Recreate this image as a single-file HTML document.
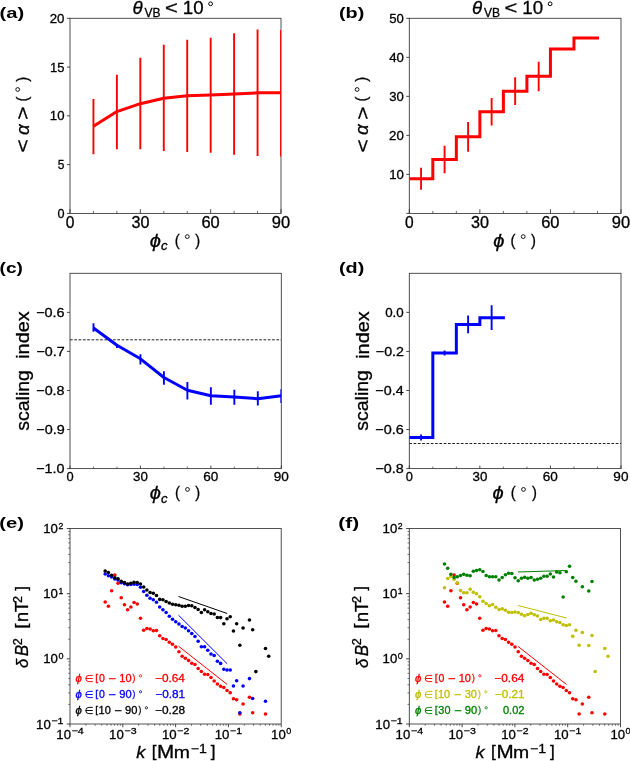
<!DOCTYPE html>
<html><head><meta charset="utf-8"><style>
html,body{margin:0;padding:0;background:#fff;overflow:hidden;}
svg{display:block;will-change:transform;font-family:"Liberation Sans", sans-serif;}
</style></head><body>
<svg width="630" height="761" viewBox="0 0 630 761">
<rect width="630" height="761" fill="#fff"/>
<rect x="70.00" y="18.30" width="211.00" height="195.10" fill="none" stroke="#333" stroke-width="0.85"/>
<line x1="67.00" y1="213.40" x2="70.00" y2="213.40" stroke="#333" stroke-width="0.9"/>
<text x="57.46" y="218.04" font-size="12.82" textLength="7.04" lengthAdjust="spacingAndGlyphs" stroke="#000" stroke-width="0.3">0</text>
<line x1="67.00" y1="164.62" x2="70.00" y2="164.62" stroke="#333" stroke-width="0.9"/>
<text x="57.86" y="169.27" font-size="12.78" textLength="6.64" lengthAdjust="spacingAndGlyphs" stroke="#000" stroke-width="0.3">5</text>
<line x1="67.00" y1="115.85" x2="70.00" y2="115.85" stroke="#333" stroke-width="0.9"/>
<text x="49.84" y="120.49" font-size="12.82" textLength="14.67" lengthAdjust="spacingAndGlyphs" stroke="#000" stroke-width="0.3">10</text>
<line x1="67.00" y1="67.08" x2="70.00" y2="67.08" stroke="#333" stroke-width="0.9"/>
<text x="50.11" y="71.72" font-size="12.78" textLength="14.44" lengthAdjust="spacingAndGlyphs" stroke="#000" stroke-width="0.3">15</text>
<line x1="67.00" y1="18.30" x2="70.00" y2="18.30" stroke="#333" stroke-width="0.9"/>
<text x="49.74" y="22.94" font-size="12.82" textLength="14.78" lengthAdjust="spacingAndGlyphs" stroke="#000" stroke-width="0.3">20</text>
<line x1="70.00" y1="213.40" x2="70.00" y2="209.20" stroke="#333" stroke-width="0.9"/>
<text x="65.66" y="227.66" font-size="15.81" textLength="8.68" lengthAdjust="spacingAndGlyphs" stroke="#000" stroke-width="0.3">0</text>
<line x1="140.33" y1="213.40" x2="140.33" y2="209.20" stroke="#333" stroke-width="0.9"/>
<text x="131.43" y="227.66" font-size="15.81" textLength="17.97" lengthAdjust="spacingAndGlyphs" stroke="#000" stroke-width="0.3">30</text>
<line x1="210.67" y1="213.40" x2="210.67" y2="209.20" stroke="#333" stroke-width="0.9"/>
<text x="201.45" y="227.66" font-size="15.81" textLength="18.29" lengthAdjust="spacingAndGlyphs" stroke="#000" stroke-width="0.3">60</text>
<line x1="281.00" y1="213.40" x2="281.00" y2="209.20" stroke="#333" stroke-width="0.9"/>
<text x="271.74" y="227.66" font-size="15.81" textLength="18.33" lengthAdjust="spacingAndGlyphs" stroke="#000" stroke-width="0.3">90</text>
<line x1="93.44" y1="213.40" x2="93.44" y2="210.90" stroke="#333" stroke-width="0.7"/>
<line x1="116.89" y1="213.40" x2="116.89" y2="210.90" stroke="#333" stroke-width="0.7"/>
<line x1="163.78" y1="213.40" x2="163.78" y2="210.90" stroke="#333" stroke-width="0.7"/>
<line x1="187.22" y1="213.40" x2="187.22" y2="210.90" stroke="#333" stroke-width="0.7"/>
<line x1="234.11" y1="213.40" x2="234.11" y2="210.90" stroke="#333" stroke-width="0.7"/>
<line x1="257.56" y1="213.40" x2="257.56" y2="210.90" stroke="#333" stroke-width="0.7"/>
<clipPath id="c1"><rect x="70.00" y="18.30" width="211.00" height="195.10"/></clipPath><g clip-path="url(#c1)">
<line x1="93.44" y1="99.10" x2="93.44" y2="154.20" stroke="#ff0000" stroke-width="1.9"/>
<line x1="116.89" y1="74.80" x2="116.89" y2="149.30" stroke="#ff0000" stroke-width="1.9"/>
<line x1="140.33" y1="57.70" x2="140.33" y2="149.30" stroke="#ff0000" stroke-width="1.9"/>
<line x1="163.78" y1="44.80" x2="163.78" y2="150.90" stroke="#ff0000" stroke-width="1.9"/>
<line x1="187.22" y1="39.70" x2="187.22" y2="152.10" stroke="#ff0000" stroke-width="1.9"/>
<line x1="210.67" y1="37.80" x2="210.67" y2="152.80" stroke="#ff0000" stroke-width="1.9"/>
<line x1="234.11" y1="33.20" x2="234.11" y2="154.70" stroke="#ff0000" stroke-width="1.9"/>
<line x1="257.56" y1="29.60" x2="257.56" y2="156.10" stroke="#ff0000" stroke-width="1.9"/>
<line x1="281.00" y1="30.10" x2="281.00" y2="156.50" stroke="#ff0000" stroke-width="1.9"/>
<polyline points="93.44,126.30 116.89,111.60 140.33,103.70 163.78,98.20 187.22,95.80 210.67,95.10 234.11,94.00 257.56,92.80 281.00,92.80" fill="none" stroke="#ff0000" stroke-width="3.0" stroke-linejoin="round"/>
</g>
<rect x="409.30" y="18.30" width="211.70" height="195.10" fill="none" stroke="#333" stroke-width="0.85"/>
<line x1="406.30" y1="213.40" x2="409.30" y2="213.40" stroke="#333" stroke-width="0.9"/>
<line x1="406.30" y1="174.38" x2="409.30" y2="174.38" stroke="#333" stroke-width="0.9"/>
<text x="389.24" y="179.02" font-size="12.82" textLength="14.67" lengthAdjust="spacingAndGlyphs" stroke="#000" stroke-width="0.3">10</text>
<line x1="406.30" y1="135.36" x2="409.30" y2="135.36" stroke="#333" stroke-width="0.9"/>
<text x="389.14" y="140.00" font-size="12.82" textLength="14.78" lengthAdjust="spacingAndGlyphs" stroke="#000" stroke-width="0.3">20</text>
<line x1="406.30" y1="96.34" x2="409.30" y2="96.34" stroke="#333" stroke-width="0.9"/>
<text x="389.34" y="100.98" font-size="12.82" textLength="14.57" lengthAdjust="spacingAndGlyphs" stroke="#000" stroke-width="0.3">30</text>
<line x1="406.30" y1="57.32" x2="409.30" y2="57.32" stroke="#333" stroke-width="0.9"/>
<text x="389.21" y="61.96" font-size="12.82" textLength="14.71" lengthAdjust="spacingAndGlyphs" stroke="#000" stroke-width="0.3">40</text>
<line x1="406.30" y1="18.30" x2="409.30" y2="18.30" stroke="#333" stroke-width="0.9"/>
<text x="389.33" y="22.94" font-size="12.82" textLength="14.58" lengthAdjust="spacingAndGlyphs" stroke="#000" stroke-width="0.3">50</text>
<line x1="409.30" y1="213.40" x2="409.30" y2="209.20" stroke="#333" stroke-width="0.9"/>
<text x="404.96" y="227.66" font-size="15.81" textLength="8.68" lengthAdjust="spacingAndGlyphs" stroke="#000" stroke-width="0.3">0</text>
<line x1="479.87" y1="213.40" x2="479.87" y2="209.20" stroke="#333" stroke-width="0.9"/>
<text x="470.96" y="227.66" font-size="15.81" textLength="17.97" lengthAdjust="spacingAndGlyphs" stroke="#000" stroke-width="0.3">30</text>
<line x1="550.43" y1="213.40" x2="550.43" y2="209.20" stroke="#333" stroke-width="0.9"/>
<text x="541.22" y="227.66" font-size="15.81" textLength="18.29" lengthAdjust="spacingAndGlyphs" stroke="#000" stroke-width="0.3">60</text>
<line x1="621.00" y1="213.40" x2="621.00" y2="209.20" stroke="#333" stroke-width="0.9"/>
<text x="611.74" y="227.66" font-size="15.81" textLength="18.33" lengthAdjust="spacingAndGlyphs" stroke="#000" stroke-width="0.3">90</text>
<line x1="432.82" y1="213.40" x2="432.82" y2="210.90" stroke="#333" stroke-width="0.7"/>
<line x1="456.34" y1="213.40" x2="456.34" y2="210.90" stroke="#333" stroke-width="0.7"/>
<line x1="503.39" y1="213.40" x2="503.39" y2="210.90" stroke="#333" stroke-width="0.7"/>
<line x1="526.91" y1="213.40" x2="526.91" y2="210.90" stroke="#333" stroke-width="0.7"/>
<line x1="573.96" y1="213.40" x2="573.96" y2="210.90" stroke="#333" stroke-width="0.7"/>
<line x1="597.48" y1="213.40" x2="597.48" y2="210.90" stroke="#333" stroke-width="0.7"/>
<clipPath id="c2"><rect x="409.30" y="18.30" width="211.70" height="195.10"/></clipPath><g clip-path="url(#c2)">
<polyline points="409.30,178.70 432.82,178.70 432.82,159.50 456.34,159.50 456.34,136.70 479.87,136.70 479.87,111.70 503.39,111.70 503.39,91.20 526.91,91.20 526.91,76.30 550.43,76.30 550.43,49.00 573.96,49.00 573.96,38.00 597.48,38.00" fill="none" stroke="#ff0000" stroke-width="3.0" stroke-linejoin="miter" stroke-linecap="square"/>
<line x1="421.06" y1="167.80" x2="421.06" y2="189.70" stroke="#ff0000" stroke-width="1.9"/>
<line x1="444.58" y1="145.80" x2="444.58" y2="173.30" stroke="#ff0000" stroke-width="1.9"/>
<line x1="468.11" y1="122.00" x2="468.11" y2="151.70" stroke="#ff0000" stroke-width="1.9"/>
<line x1="491.63" y1="98.00" x2="491.63" y2="125.50" stroke="#ff0000" stroke-width="1.9"/>
<line x1="515.15" y1="77.20" x2="515.15" y2="105.00" stroke="#ff0000" stroke-width="1.9"/>
<line x1="538.67" y1="61.70" x2="538.67" y2="91.20" stroke="#ff0000" stroke-width="1.9"/>
</g>
<rect x="70.00" y="273.30" width="211.30" height="195.30" fill="none" stroke="#333" stroke-width="0.85"/>
<line x1="67.00" y1="468.60" x2="70.00" y2="468.60" stroke="#333" stroke-width="0.9"/>
<text x="36.22" y="473.24" font-size="12.82" textLength="28.34" lengthAdjust="spacingAndGlyphs" stroke="#000" stroke-width="0.3">−1.0</text>
<line x1="67.00" y1="429.54" x2="70.00" y2="429.54" stroke="#333" stroke-width="0.9"/>
<text x="36.27" y="434.18" font-size="12.82" textLength="28.42" lengthAdjust="spacingAndGlyphs" stroke="#000" stroke-width="0.3">−0.9</text>
<line x1="67.00" y1="390.48" x2="70.00" y2="390.48" stroke="#333" stroke-width="0.9"/>
<text x="36.24" y="395.12" font-size="12.82" textLength="28.38" lengthAdjust="spacingAndGlyphs" stroke="#000" stroke-width="0.3">−0.8</text>
<line x1="67.00" y1="351.42" x2="70.00" y2="351.42" stroke="#333" stroke-width="0.9"/>
<text x="36.45" y="356.06" font-size="12.82" textLength="28.27" lengthAdjust="spacingAndGlyphs" stroke="#000" stroke-width="0.3">−0.7</text>
<line x1="67.00" y1="312.36" x2="70.00" y2="312.36" stroke="#333" stroke-width="0.9"/>
<text x="36.18" y="317.00" font-size="12.82" textLength="28.46" lengthAdjust="spacingAndGlyphs" stroke="#000" stroke-width="0.3">−0.6</text>
<line x1="70.00" y1="468.60" x2="70.00" y2="465.60" stroke="#333" stroke-width="0.9"/>
<text x="66.42" y="481.05" font-size="13.03" textLength="7.15" lengthAdjust="spacingAndGlyphs" stroke="#000" stroke-width="0.3">0</text>
<line x1="140.43" y1="468.60" x2="140.43" y2="465.60" stroke="#333" stroke-width="0.9"/>
<text x="133.09" y="481.05" font-size="13.03" textLength="14.81" lengthAdjust="spacingAndGlyphs" stroke="#000" stroke-width="0.3">30</text>
<line x1="210.87" y1="468.60" x2="210.87" y2="465.60" stroke="#333" stroke-width="0.9"/>
<text x="203.27" y="481.05" font-size="13.03" textLength="15.08" lengthAdjust="spacingAndGlyphs" stroke="#000" stroke-width="0.3">60</text>
<line x1="281.30" y1="468.60" x2="281.30" y2="465.60" stroke="#333" stroke-width="0.9"/>
<text x="273.67" y="481.05" font-size="13.03" textLength="15.11" lengthAdjust="spacingAndGlyphs" stroke="#000" stroke-width="0.3">90</text>
<line x1="93.48" y1="468.60" x2="93.48" y2="466.60" stroke="#333" stroke-width="0.7"/>
<line x1="116.96" y1="468.60" x2="116.96" y2="466.60" stroke="#333" stroke-width="0.7"/>
<line x1="163.91" y1="468.60" x2="163.91" y2="466.60" stroke="#333" stroke-width="0.7"/>
<line x1="187.39" y1="468.60" x2="187.39" y2="466.60" stroke="#333" stroke-width="0.7"/>
<line x1="234.34" y1="468.60" x2="234.34" y2="466.60" stroke="#333" stroke-width="0.7"/>
<line x1="257.82" y1="468.60" x2="257.82" y2="466.60" stroke="#333" stroke-width="0.7"/>
<clipPath id="c3"><rect x="70.00" y="273.30" width="211.30" height="195.30"/></clipPath><g clip-path="url(#c3)">
<line x1="70.00" y1="339.80" x2="281.30" y2="339.80" stroke="#222" stroke-width="1.0" stroke-dasharray="2.7,1.6"/>
<line x1="93.48" y1="323.30" x2="93.48" y2="331.70" stroke="#0000ff" stroke-width="1.9"/>
<line x1="116.96" y1="344.20" x2="116.96" y2="348.00" stroke="#0000ff" stroke-width="1.9"/>
<line x1="140.43" y1="354.20" x2="140.43" y2="364.50" stroke="#0000ff" stroke-width="1.9"/>
<line x1="163.91" y1="371.30" x2="163.91" y2="384.70" stroke="#0000ff" stroke-width="1.9"/>
<line x1="187.39" y1="382.00" x2="187.39" y2="399.50" stroke="#0000ff" stroke-width="1.9"/>
<line x1="210.87" y1="387.20" x2="210.87" y2="404.70" stroke="#0000ff" stroke-width="1.9"/>
<line x1="234.34" y1="389.70" x2="234.34" y2="404.70" stroke="#0000ff" stroke-width="1.9"/>
<line x1="257.82" y1="391.30" x2="257.82" y2="405.50" stroke="#0000ff" stroke-width="1.9"/>
<line x1="281.30" y1="389.20" x2="281.30" y2="403.00" stroke="#0000ff" stroke-width="1.9"/>
<polyline points="93.48,328.00 116.96,345.30 140.43,358.80 163.91,377.50 187.39,390.30 210.87,395.80 234.34,397.00 257.82,398.70 281.30,395.80" fill="none" stroke="#0000ff" stroke-width="3.0" stroke-linejoin="round"/>
</g>
<rect x="409.30" y="273.30" width="211.70" height="195.30" fill="none" stroke="#333" stroke-width="0.85"/>
<line x1="406.30" y1="468.60" x2="409.30" y2="468.60" stroke="#333" stroke-width="0.9"/>
<text x="375.44" y="473.24" font-size="12.82" textLength="28.38" lengthAdjust="spacingAndGlyphs" stroke="#000" stroke-width="0.3">−0.8</text>
<line x1="406.30" y1="429.54" x2="409.30" y2="429.54" stroke="#333" stroke-width="0.9"/>
<text x="375.38" y="434.18" font-size="12.82" textLength="28.46" lengthAdjust="spacingAndGlyphs" stroke="#000" stroke-width="0.3">−0.6</text>
<line x1="406.30" y1="390.48" x2="409.30" y2="390.48" stroke="#333" stroke-width="0.9"/>
<text x="375.30" y="395.12" font-size="12.82" textLength="28.32" lengthAdjust="spacingAndGlyphs" stroke="#000" stroke-width="0.3">−0.4</text>
<line x1="406.30" y1="351.42" x2="409.30" y2="351.42" stroke="#333" stroke-width="0.9"/>
<text x="375.83" y="356.06" font-size="12.82" textLength="28.08" lengthAdjust="spacingAndGlyphs" stroke="#000" stroke-width="0.3">−0.2</text>
<line x1="406.30" y1="312.36" x2="409.30" y2="312.36" stroke="#333" stroke-width="0.9"/>
<text x="385.18" y="317.00" font-size="12.82" textLength="18.54" lengthAdjust="spacingAndGlyphs" stroke="#000" stroke-width="0.3">0.0</text>
<line x1="409.30" y1="468.60" x2="409.30" y2="465.60" stroke="#333" stroke-width="0.9"/>
<text x="405.72" y="481.05" font-size="13.03" textLength="7.15" lengthAdjust="spacingAndGlyphs" stroke="#000" stroke-width="0.3">0</text>
<line x1="479.87" y1="468.60" x2="479.87" y2="465.60" stroke="#333" stroke-width="0.9"/>
<text x="472.53" y="481.05" font-size="13.03" textLength="14.81" lengthAdjust="spacingAndGlyphs" stroke="#000" stroke-width="0.3">30</text>
<line x1="550.43" y1="468.60" x2="550.43" y2="465.60" stroke="#333" stroke-width="0.9"/>
<text x="542.83" y="481.05" font-size="13.03" textLength="15.08" lengthAdjust="spacingAndGlyphs" stroke="#000" stroke-width="0.3">60</text>
<line x1="621.00" y1="468.60" x2="621.00" y2="465.60" stroke="#333" stroke-width="0.9"/>
<text x="613.37" y="481.05" font-size="13.03" textLength="15.11" lengthAdjust="spacingAndGlyphs" stroke="#000" stroke-width="0.3">90</text>
<line x1="432.82" y1="468.60" x2="432.82" y2="466.60" stroke="#333" stroke-width="0.7"/>
<line x1="456.34" y1="468.60" x2="456.34" y2="466.60" stroke="#333" stroke-width="0.7"/>
<line x1="503.39" y1="468.60" x2="503.39" y2="466.60" stroke="#333" stroke-width="0.7"/>
<line x1="526.91" y1="468.60" x2="526.91" y2="466.60" stroke="#333" stroke-width="0.7"/>
<line x1="573.96" y1="468.60" x2="573.96" y2="466.60" stroke="#333" stroke-width="0.7"/>
<line x1="597.48" y1="468.60" x2="597.48" y2="466.60" stroke="#333" stroke-width="0.7"/>
<clipPath id="c4"><rect x="409.30" y="273.30" width="211.70" height="195.30"/></clipPath><g clip-path="url(#c4)">
<line x1="409.30" y1="443.50" x2="621.00" y2="443.50" stroke="#222" stroke-width="1.0" stroke-dasharray="2.7,1.6"/>
<polyline points="409.30,437.40 432.82,437.40 432.82,353.00 456.34,353.00 456.34,324.40 479.87,324.40 479.87,317.70 503.39,317.70" fill="none" stroke="#0000ff" stroke-width="3.0" stroke-linecap="square"/>
<line x1="421.06" y1="434.50" x2="421.06" y2="440.50" stroke="#0000ff" stroke-width="1.9"/>
<line x1="444.58" y1="350.50" x2="444.58" y2="355.50" stroke="#0000ff" stroke-width="1.9"/>
<line x1="468.11" y1="315.40" x2="468.11" y2="333.20" stroke="#0000ff" stroke-width="1.9"/>
<line x1="491.63" y1="305.30" x2="491.63" y2="329.90" stroke="#0000ff" stroke-width="1.9"/>
</g>
<rect x="70.00" y="528.50" width="211.20" height="195.50" fill="none" stroke="#333" stroke-width="0.85"/>
<line x1="66.80" y1="724.00" x2="70.00" y2="724.00" stroke="#333" stroke-width="0.9"/>
<line x1="66.80" y1="658.83" x2="70.00" y2="658.83" stroke="#333" stroke-width="0.9"/>
<line x1="66.80" y1="593.67" x2="70.00" y2="593.67" stroke="#333" stroke-width="0.9"/>
<line x1="66.80" y1="528.50" x2="70.00" y2="528.50" stroke="#333" stroke-width="0.9"/>
<line x1="68.20" y1="704.38" x2="70.00" y2="704.38" stroke="#333" stroke-width="0.65"/>
<line x1="68.20" y1="692.91" x2="70.00" y2="692.91" stroke="#333" stroke-width="0.65"/>
<line x1="68.20" y1="684.77" x2="70.00" y2="684.77" stroke="#333" stroke-width="0.65"/>
<line x1="68.20" y1="678.45" x2="70.00" y2="678.45" stroke="#333" stroke-width="0.65"/>
<line x1="68.20" y1="673.29" x2="70.00" y2="673.29" stroke="#333" stroke-width="0.65"/>
<line x1="68.20" y1="668.93" x2="70.00" y2="668.93" stroke="#333" stroke-width="0.65"/>
<line x1="68.20" y1="665.15" x2="70.00" y2="665.15" stroke="#333" stroke-width="0.65"/>
<line x1="68.20" y1="661.82" x2="70.00" y2="661.82" stroke="#333" stroke-width="0.65"/>
<line x1="68.20" y1="639.22" x2="70.00" y2="639.22" stroke="#333" stroke-width="0.65"/>
<line x1="68.20" y1="627.74" x2="70.00" y2="627.74" stroke="#333" stroke-width="0.65"/>
<line x1="68.20" y1="619.60" x2="70.00" y2="619.60" stroke="#333" stroke-width="0.65"/>
<line x1="68.20" y1="613.28" x2="70.00" y2="613.28" stroke="#333" stroke-width="0.65"/>
<line x1="68.20" y1="608.12" x2="70.00" y2="608.12" stroke="#333" stroke-width="0.65"/>
<line x1="68.20" y1="603.76" x2="70.00" y2="603.76" stroke="#333" stroke-width="0.65"/>
<line x1="68.20" y1="599.98" x2="70.00" y2="599.98" stroke="#333" stroke-width="0.65"/>
<line x1="68.20" y1="596.65" x2="70.00" y2="596.65" stroke="#333" stroke-width="0.65"/>
<line x1="68.20" y1="574.05" x2="70.00" y2="574.05" stroke="#333" stroke-width="0.65"/>
<line x1="68.20" y1="562.57" x2="70.00" y2="562.57" stroke="#333" stroke-width="0.65"/>
<line x1="68.20" y1="554.43" x2="70.00" y2="554.43" stroke="#333" stroke-width="0.65"/>
<line x1="68.20" y1="548.12" x2="70.00" y2="548.12" stroke="#333" stroke-width="0.65"/>
<line x1="68.20" y1="542.96" x2="70.00" y2="542.96" stroke="#333" stroke-width="0.65"/>
<line x1="68.20" y1="538.59" x2="70.00" y2="538.59" stroke="#333" stroke-width="0.65"/>
<line x1="68.20" y1="534.82" x2="70.00" y2="534.82" stroke="#333" stroke-width="0.65"/>
<line x1="68.20" y1="531.48" x2="70.00" y2="531.48" stroke="#333" stroke-width="0.65"/>
<line x1="70.00" y1="724.00" x2="70.00" y2="727.20" stroke="#333" stroke-width="0.9"/>
<line x1="122.80" y1="724.00" x2="122.80" y2="727.20" stroke="#333" stroke-width="0.9"/>
<line x1="175.60" y1="724.00" x2="175.60" y2="727.20" stroke="#333" stroke-width="0.9"/>
<line x1="228.40" y1="724.00" x2="228.40" y2="727.20" stroke="#333" stroke-width="0.9"/>
<line x1="281.20" y1="724.00" x2="281.20" y2="727.20" stroke="#333" stroke-width="0.9"/>
<line x1="85.89" y1="724.00" x2="85.89" y2="725.80" stroke="#333" stroke-width="0.65"/>
<line x1="95.19" y1="724.00" x2="95.19" y2="725.80" stroke="#333" stroke-width="0.65"/>
<line x1="101.79" y1="724.00" x2="101.79" y2="725.80" stroke="#333" stroke-width="0.65"/>
<line x1="106.91" y1="724.00" x2="106.91" y2="725.80" stroke="#333" stroke-width="0.65"/>
<line x1="111.09" y1="724.00" x2="111.09" y2="725.80" stroke="#333" stroke-width="0.65"/>
<line x1="114.62" y1="724.00" x2="114.62" y2="725.80" stroke="#333" stroke-width="0.65"/>
<line x1="117.68" y1="724.00" x2="117.68" y2="725.80" stroke="#333" stroke-width="0.65"/>
<line x1="120.38" y1="724.00" x2="120.38" y2="725.80" stroke="#333" stroke-width="0.65"/>
<line x1="138.69" y1="724.00" x2="138.69" y2="725.80" stroke="#333" stroke-width="0.65"/>
<line x1="147.99" y1="724.00" x2="147.99" y2="725.80" stroke="#333" stroke-width="0.65"/>
<line x1="154.59" y1="724.00" x2="154.59" y2="725.80" stroke="#333" stroke-width="0.65"/>
<line x1="159.71" y1="724.00" x2="159.71" y2="725.80" stroke="#333" stroke-width="0.65"/>
<line x1="163.89" y1="724.00" x2="163.89" y2="725.80" stroke="#333" stroke-width="0.65"/>
<line x1="167.42" y1="724.00" x2="167.42" y2="725.80" stroke="#333" stroke-width="0.65"/>
<line x1="170.48" y1="724.00" x2="170.48" y2="725.80" stroke="#333" stroke-width="0.65"/>
<line x1="173.18" y1="724.00" x2="173.18" y2="725.80" stroke="#333" stroke-width="0.65"/>
<line x1="191.49" y1="724.00" x2="191.49" y2="725.80" stroke="#333" stroke-width="0.65"/>
<line x1="200.79" y1="724.00" x2="200.79" y2="725.80" stroke="#333" stroke-width="0.65"/>
<line x1="207.39" y1="724.00" x2="207.39" y2="725.80" stroke="#333" stroke-width="0.65"/>
<line x1="212.51" y1="724.00" x2="212.51" y2="725.80" stroke="#333" stroke-width="0.65"/>
<line x1="216.69" y1="724.00" x2="216.69" y2="725.80" stroke="#333" stroke-width="0.65"/>
<line x1="220.22" y1="724.00" x2="220.22" y2="725.80" stroke="#333" stroke-width="0.65"/>
<line x1="223.28" y1="724.00" x2="223.28" y2="725.80" stroke="#333" stroke-width="0.65"/>
<line x1="225.98" y1="724.00" x2="225.98" y2="725.80" stroke="#333" stroke-width="0.65"/>
<line x1="244.29" y1="724.00" x2="244.29" y2="725.80" stroke="#333" stroke-width="0.65"/>
<line x1="253.59" y1="724.00" x2="253.59" y2="725.80" stroke="#333" stroke-width="0.65"/>
<line x1="260.19" y1="724.00" x2="260.19" y2="725.80" stroke="#333" stroke-width="0.65"/>
<line x1="265.31" y1="724.00" x2="265.31" y2="725.80" stroke="#333" stroke-width="0.65"/>
<line x1="269.49" y1="724.00" x2="269.49" y2="725.80" stroke="#333" stroke-width="0.65"/>
<line x1="273.02" y1="724.00" x2="273.02" y2="725.80" stroke="#333" stroke-width="0.65"/>
<line x1="276.08" y1="724.00" x2="276.08" y2="725.80" stroke="#333" stroke-width="0.65"/>
<line x1="278.78" y1="724.00" x2="278.78" y2="725.80" stroke="#333" stroke-width="0.65"/>
<text x="36.07" y="728.54" font-size="12.82" textLength="14.67" lengthAdjust="spacingAndGlyphs" stroke="#000" stroke-width="0.3">10</text>
<text x="51.41" y="724.30" font-size="9.11" textLength="12.01" lengthAdjust="spacingAndGlyphs" stroke="#000" stroke-width="0.3">−1</text>
<text x="43.27" y="663.38" font-size="12.82" textLength="14.67" lengthAdjust="spacingAndGlyphs" stroke="#000" stroke-width="0.3">10</text>
<text x="58.44" y="659.17" font-size="9.19" textLength="5.04" lengthAdjust="spacingAndGlyphs" stroke="#000" stroke-width="0.3">0</text>
<text x="43.27" y="598.21" font-size="12.82" textLength="14.67" lengthAdjust="spacingAndGlyphs" stroke="#000" stroke-width="0.3">10</text>
<text x="58.51" y="593.97" font-size="9.11" textLength="4.82" lengthAdjust="spacingAndGlyphs" stroke="#000" stroke-width="0.3">1</text>
<text x="43.27" y="533.04" font-size="12.82" textLength="14.67" lengthAdjust="spacingAndGlyphs" stroke="#000" stroke-width="0.3">10</text>
<text x="58.42" y="528.80" font-size="9.14" textLength="4.86" lengthAdjust="spacingAndGlyphs" stroke="#000" stroke-width="0.3">2</text>
<text x="56.34" y="739.04" font-size="12.82" textLength="14.67" lengthAdjust="spacingAndGlyphs" stroke="#000" stroke-width="0.3">10</text>
<text x="71.68" y="734.00" font-size="9.11" textLength="12.12" lengthAdjust="spacingAndGlyphs" stroke="#000" stroke-width="0.3">−4</text>
<text x="109.14" y="739.04" font-size="12.82" textLength="14.67" lengthAdjust="spacingAndGlyphs" stroke="#000" stroke-width="0.3">10</text>
<text x="124.49" y="734.03" font-size="9.19" textLength="12.06" lengthAdjust="spacingAndGlyphs" stroke="#000" stroke-width="0.3">−3</text>
<text x="161.94" y="739.04" font-size="12.82" textLength="14.67" lengthAdjust="spacingAndGlyphs" stroke="#000" stroke-width="0.3">10</text>
<text x="177.29" y="734.00" font-size="9.14" textLength="11.95" lengthAdjust="spacingAndGlyphs" stroke="#000" stroke-width="0.3">−2</text>
<text x="214.74" y="739.04" font-size="12.82" textLength="14.67" lengthAdjust="spacingAndGlyphs" stroke="#000" stroke-width="0.3">10</text>
<text x="230.09" y="734.00" font-size="9.11" textLength="12.01" lengthAdjust="spacingAndGlyphs" stroke="#000" stroke-width="0.3">−1</text>
<text x="271.14" y="739.04" font-size="12.82" textLength="14.67" lengthAdjust="spacingAndGlyphs" stroke="#000" stroke-width="0.3">10</text>
<text x="286.31" y="734.03" font-size="9.19" textLength="5.04" lengthAdjust="spacingAndGlyphs" stroke="#000" stroke-width="0.3">0</text>
<rect x="409.30" y="528.50" width="211.20" height="195.50" fill="none" stroke="#333" stroke-width="0.85"/>
<line x1="406.10" y1="724.00" x2="409.30" y2="724.00" stroke="#333" stroke-width="0.9"/>
<line x1="406.10" y1="658.83" x2="409.30" y2="658.83" stroke="#333" stroke-width="0.9"/>
<line x1="406.10" y1="593.67" x2="409.30" y2="593.67" stroke="#333" stroke-width="0.9"/>
<line x1="406.10" y1="528.50" x2="409.30" y2="528.50" stroke="#333" stroke-width="0.9"/>
<line x1="407.50" y1="704.38" x2="409.30" y2="704.38" stroke="#333" stroke-width="0.65"/>
<line x1="407.50" y1="692.91" x2="409.30" y2="692.91" stroke="#333" stroke-width="0.65"/>
<line x1="407.50" y1="684.77" x2="409.30" y2="684.77" stroke="#333" stroke-width="0.65"/>
<line x1="407.50" y1="678.45" x2="409.30" y2="678.45" stroke="#333" stroke-width="0.65"/>
<line x1="407.50" y1="673.29" x2="409.30" y2="673.29" stroke="#333" stroke-width="0.65"/>
<line x1="407.50" y1="668.93" x2="409.30" y2="668.93" stroke="#333" stroke-width="0.65"/>
<line x1="407.50" y1="665.15" x2="409.30" y2="665.15" stroke="#333" stroke-width="0.65"/>
<line x1="407.50" y1="661.82" x2="409.30" y2="661.82" stroke="#333" stroke-width="0.65"/>
<line x1="407.50" y1="639.22" x2="409.30" y2="639.22" stroke="#333" stroke-width="0.65"/>
<line x1="407.50" y1="627.74" x2="409.30" y2="627.74" stroke="#333" stroke-width="0.65"/>
<line x1="407.50" y1="619.60" x2="409.30" y2="619.60" stroke="#333" stroke-width="0.65"/>
<line x1="407.50" y1="613.28" x2="409.30" y2="613.28" stroke="#333" stroke-width="0.65"/>
<line x1="407.50" y1="608.12" x2="409.30" y2="608.12" stroke="#333" stroke-width="0.65"/>
<line x1="407.50" y1="603.76" x2="409.30" y2="603.76" stroke="#333" stroke-width="0.65"/>
<line x1="407.50" y1="599.98" x2="409.30" y2="599.98" stroke="#333" stroke-width="0.65"/>
<line x1="407.50" y1="596.65" x2="409.30" y2="596.65" stroke="#333" stroke-width="0.65"/>
<line x1="407.50" y1="574.05" x2="409.30" y2="574.05" stroke="#333" stroke-width="0.65"/>
<line x1="407.50" y1="562.57" x2="409.30" y2="562.57" stroke="#333" stroke-width="0.65"/>
<line x1="407.50" y1="554.43" x2="409.30" y2="554.43" stroke="#333" stroke-width="0.65"/>
<line x1="407.50" y1="548.12" x2="409.30" y2="548.12" stroke="#333" stroke-width="0.65"/>
<line x1="407.50" y1="542.96" x2="409.30" y2="542.96" stroke="#333" stroke-width="0.65"/>
<line x1="407.50" y1="538.59" x2="409.30" y2="538.59" stroke="#333" stroke-width="0.65"/>
<line x1="407.50" y1="534.82" x2="409.30" y2="534.82" stroke="#333" stroke-width="0.65"/>
<line x1="407.50" y1="531.48" x2="409.30" y2="531.48" stroke="#333" stroke-width="0.65"/>
<line x1="409.30" y1="724.00" x2="409.30" y2="727.20" stroke="#333" stroke-width="0.9"/>
<line x1="462.10" y1="724.00" x2="462.10" y2="727.20" stroke="#333" stroke-width="0.9"/>
<line x1="514.90" y1="724.00" x2="514.90" y2="727.20" stroke="#333" stroke-width="0.9"/>
<line x1="567.70" y1="724.00" x2="567.70" y2="727.20" stroke="#333" stroke-width="0.9"/>
<line x1="620.50" y1="724.00" x2="620.50" y2="727.20" stroke="#333" stroke-width="0.9"/>
<line x1="425.19" y1="724.00" x2="425.19" y2="725.80" stroke="#333" stroke-width="0.65"/>
<line x1="434.49" y1="724.00" x2="434.49" y2="725.80" stroke="#333" stroke-width="0.65"/>
<line x1="441.09" y1="724.00" x2="441.09" y2="725.80" stroke="#333" stroke-width="0.65"/>
<line x1="446.21" y1="724.00" x2="446.21" y2="725.80" stroke="#333" stroke-width="0.65"/>
<line x1="450.39" y1="724.00" x2="450.39" y2="725.80" stroke="#333" stroke-width="0.65"/>
<line x1="453.92" y1="724.00" x2="453.92" y2="725.80" stroke="#333" stroke-width="0.65"/>
<line x1="456.98" y1="724.00" x2="456.98" y2="725.80" stroke="#333" stroke-width="0.65"/>
<line x1="459.68" y1="724.00" x2="459.68" y2="725.80" stroke="#333" stroke-width="0.65"/>
<line x1="477.99" y1="724.00" x2="477.99" y2="725.80" stroke="#333" stroke-width="0.65"/>
<line x1="487.29" y1="724.00" x2="487.29" y2="725.80" stroke="#333" stroke-width="0.65"/>
<line x1="493.89" y1="724.00" x2="493.89" y2="725.80" stroke="#333" stroke-width="0.65"/>
<line x1="499.01" y1="724.00" x2="499.01" y2="725.80" stroke="#333" stroke-width="0.65"/>
<line x1="503.19" y1="724.00" x2="503.19" y2="725.80" stroke="#333" stroke-width="0.65"/>
<line x1="506.72" y1="724.00" x2="506.72" y2="725.80" stroke="#333" stroke-width="0.65"/>
<line x1="509.78" y1="724.00" x2="509.78" y2="725.80" stroke="#333" stroke-width="0.65"/>
<line x1="512.48" y1="724.00" x2="512.48" y2="725.80" stroke="#333" stroke-width="0.65"/>
<line x1="530.79" y1="724.00" x2="530.79" y2="725.80" stroke="#333" stroke-width="0.65"/>
<line x1="540.09" y1="724.00" x2="540.09" y2="725.80" stroke="#333" stroke-width="0.65"/>
<line x1="546.69" y1="724.00" x2="546.69" y2="725.80" stroke="#333" stroke-width="0.65"/>
<line x1="551.81" y1="724.00" x2="551.81" y2="725.80" stroke="#333" stroke-width="0.65"/>
<line x1="555.99" y1="724.00" x2="555.99" y2="725.80" stroke="#333" stroke-width="0.65"/>
<line x1="559.52" y1="724.00" x2="559.52" y2="725.80" stroke="#333" stroke-width="0.65"/>
<line x1="562.58" y1="724.00" x2="562.58" y2="725.80" stroke="#333" stroke-width="0.65"/>
<line x1="565.28" y1="724.00" x2="565.28" y2="725.80" stroke="#333" stroke-width="0.65"/>
<line x1="583.59" y1="724.00" x2="583.59" y2="725.80" stroke="#333" stroke-width="0.65"/>
<line x1="592.89" y1="724.00" x2="592.89" y2="725.80" stroke="#333" stroke-width="0.65"/>
<line x1="599.49" y1="724.00" x2="599.49" y2="725.80" stroke="#333" stroke-width="0.65"/>
<line x1="604.61" y1="724.00" x2="604.61" y2="725.80" stroke="#333" stroke-width="0.65"/>
<line x1="608.79" y1="724.00" x2="608.79" y2="725.80" stroke="#333" stroke-width="0.65"/>
<line x1="612.32" y1="724.00" x2="612.32" y2="725.80" stroke="#333" stroke-width="0.65"/>
<line x1="615.38" y1="724.00" x2="615.38" y2="725.80" stroke="#333" stroke-width="0.65"/>
<line x1="618.08" y1="724.00" x2="618.08" y2="725.80" stroke="#333" stroke-width="0.65"/>
<text x="375.37" y="728.54" font-size="12.82" textLength="14.67" lengthAdjust="spacingAndGlyphs" stroke="#000" stroke-width="0.3">10</text>
<text x="390.71" y="724.30" font-size="9.11" textLength="12.01" lengthAdjust="spacingAndGlyphs" stroke="#000" stroke-width="0.3">−1</text>
<text x="382.57" y="663.38" font-size="12.82" textLength="14.67" lengthAdjust="spacingAndGlyphs" stroke="#000" stroke-width="0.3">10</text>
<text x="397.74" y="659.17" font-size="9.19" textLength="5.04" lengthAdjust="spacingAndGlyphs" stroke="#000" stroke-width="0.3">0</text>
<text x="382.57" y="598.21" font-size="12.82" textLength="14.67" lengthAdjust="spacingAndGlyphs" stroke="#000" stroke-width="0.3">10</text>
<text x="397.81" y="593.97" font-size="9.11" textLength="4.82" lengthAdjust="spacingAndGlyphs" stroke="#000" stroke-width="0.3">1</text>
<text x="382.57" y="533.04" font-size="12.82" textLength="14.67" lengthAdjust="spacingAndGlyphs" stroke="#000" stroke-width="0.3">10</text>
<text x="397.72" y="528.80" font-size="9.14" textLength="4.86" lengthAdjust="spacingAndGlyphs" stroke="#000" stroke-width="0.3">2</text>
<text x="395.64" y="739.04" font-size="12.82" textLength="14.67" lengthAdjust="spacingAndGlyphs" stroke="#000" stroke-width="0.3">10</text>
<text x="410.98" y="734.00" font-size="9.11" textLength="12.12" lengthAdjust="spacingAndGlyphs" stroke="#000" stroke-width="0.3">−4</text>
<text x="448.44" y="739.04" font-size="12.82" textLength="14.67" lengthAdjust="spacingAndGlyphs" stroke="#000" stroke-width="0.3">10</text>
<text x="463.79" y="734.03" font-size="9.19" textLength="12.06" lengthAdjust="spacingAndGlyphs" stroke="#000" stroke-width="0.3">−3</text>
<text x="501.24" y="739.04" font-size="12.82" textLength="14.67" lengthAdjust="spacingAndGlyphs" stroke="#000" stroke-width="0.3">10</text>
<text x="516.59" y="734.00" font-size="9.14" textLength="11.95" lengthAdjust="spacingAndGlyphs" stroke="#000" stroke-width="0.3">−2</text>
<text x="554.04" y="739.04" font-size="12.82" textLength="14.67" lengthAdjust="spacingAndGlyphs" stroke="#000" stroke-width="0.3">10</text>
<text x="569.39" y="734.00" font-size="9.11" textLength="12.01" lengthAdjust="spacingAndGlyphs" stroke="#000" stroke-width="0.3">−1</text>
<text x="610.44" y="739.04" font-size="12.82" textLength="14.67" lengthAdjust="spacingAndGlyphs" stroke="#000" stroke-width="0.3">10</text>
<text x="625.61" y="734.03" font-size="9.19" textLength="5.04" lengthAdjust="spacingAndGlyphs" stroke="#000" stroke-width="0.3">0</text>
<g fill="#ff0000"><circle cx="105.20" cy="602.00" r="1.8"/><circle cx="108.41" cy="606.30" r="1.8"/><circle cx="111.61" cy="590.80" r="1.8"/><circle cx="114.82" cy="575.00" r="1.8"/><circle cx="118.02" cy="583.20" r="1.8"/><circle cx="121.23" cy="597.80" r="1.8"/><circle cx="124.44" cy="604.80" r="1.8"/><circle cx="127.64" cy="609.80" r="1.8"/><circle cx="130.85" cy="607.00" r="1.8"/><circle cx="134.05" cy="602.50" r="1.8"/><circle cx="137.26" cy="604.00" r="1.8"/><circle cx="140.47" cy="618.30" r="1.8"/><circle cx="143.67" cy="630.20" r="1.8"/><circle cx="146.88" cy="628.50" r="1.8"/><circle cx="150.08" cy="629.00" r="1.8"/><circle cx="153.29" cy="630.70" r="1.8"/><circle cx="156.50" cy="630.50" r="1.8"/><circle cx="159.70" cy="635.80" r="1.8"/><circle cx="162.91" cy="638.50" r="1.8"/><circle cx="166.11" cy="639.50" r="1.8"/><circle cx="169.32" cy="642.20" r="1.8"/><circle cx="172.53" cy="644.30" r="1.8"/><circle cx="175.73" cy="647.00" r="1.8"/><circle cx="178.94" cy="651.80" r="1.8"/><circle cx="182.14" cy="656.20" r="1.8"/><circle cx="185.35" cy="658.20" r="1.8"/><circle cx="188.56" cy="660.50" r="1.8"/><circle cx="191.76" cy="663.20" r="1.8"/><circle cx="194.97" cy="664.50" r="1.8"/><circle cx="198.17" cy="668.50" r="1.8"/><circle cx="201.38" cy="671.50" r="1.8"/><circle cx="204.59" cy="674.30" r="1.8"/><circle cx="207.79" cy="674.50" r="1.8"/><circle cx="211.00" cy="677.50" r="1.8"/><circle cx="214.20" cy="681.00" r="1.8"/><circle cx="217.41" cy="684.00" r="1.8"/><circle cx="220.62" cy="686.20" r="1.8"/><circle cx="223.82" cy="687.50" r="1.8"/><circle cx="227.03" cy="690.50" r="1.8"/><circle cx="230.23" cy="692.70" r="1.8"/><circle cx="233.44" cy="698.70" r="1.8"/><circle cx="236.65" cy="699.80" r="1.8"/><circle cx="239.85" cy="714.00" r="1.8"/><circle cx="243.06" cy="704.00" r="1.8"/><circle cx="249.47" cy="697.30" r="1.8"/><circle cx="252.68" cy="712.80" r="1.8"/><circle cx="265.50" cy="714.00" r="1.8"/></g>
<g fill="#0000ff"><circle cx="105.20" cy="574.00" r="1.8"/><circle cx="108.41" cy="575.70" r="1.8"/><circle cx="111.61" cy="577.00" r="1.8"/><circle cx="114.82" cy="579.00" r="1.8"/><circle cx="118.02" cy="580.00" r="1.8"/><circle cx="121.23" cy="582.80" r="1.8"/><circle cx="124.44" cy="583.80" r="1.8"/><circle cx="127.64" cy="584.80" r="1.8"/><circle cx="130.85" cy="584.50" r="1.8"/><circle cx="134.05" cy="584.30" r="1.8"/><circle cx="137.26" cy="584.50" r="1.8"/><circle cx="140.47" cy="587.20" r="1.8"/><circle cx="143.67" cy="591.50" r="1.8"/><circle cx="146.88" cy="595.30" r="1.8"/><circle cx="150.08" cy="598.30" r="1.8"/><circle cx="153.29" cy="599.80" r="1.8"/><circle cx="156.50" cy="602.30" r="1.8"/><circle cx="159.70" cy="607.00" r="1.8"/><circle cx="162.91" cy="609.80" r="1.8"/><circle cx="166.11" cy="612.50" r="1.8"/><circle cx="169.32" cy="616.20" r="1.8"/><circle cx="172.53" cy="619.20" r="1.8"/><circle cx="175.73" cy="621.80" r="1.8"/><circle cx="178.94" cy="624.00" r="1.8"/><circle cx="182.14" cy="626.50" r="1.8"/><circle cx="185.35" cy="628.00" r="1.8"/><circle cx="188.56" cy="630.80" r="1.8"/><circle cx="191.76" cy="633.50" r="1.8"/><circle cx="194.97" cy="636.50" r="1.8"/><circle cx="198.17" cy="641.30" r="1.8"/><circle cx="201.38" cy="646.80" r="1.8"/><circle cx="204.59" cy="646.80" r="1.8"/><circle cx="207.79" cy="650.20" r="1.8"/><circle cx="211.00" cy="654.00" r="1.8"/><circle cx="214.20" cy="655.50" r="1.8"/><circle cx="217.41" cy="661.30" r="1.8"/><circle cx="220.62" cy="663.40" r="1.8"/><circle cx="223.82" cy="669.20" r="1.8"/><circle cx="227.03" cy="670.00" r="1.8"/><circle cx="230.23" cy="670.00" r="1.8"/><circle cx="233.44" cy="686.00" r="1.8"/><circle cx="236.65" cy="680.80" r="1.8"/><circle cx="239.85" cy="712.70" r="1.8"/><circle cx="243.06" cy="686.00" r="1.8"/><circle cx="249.47" cy="678.60" r="1.8"/><circle cx="252.68" cy="698.50" r="1.8"/><circle cx="265.50" cy="701.20" r="1.8"/></g>
<g fill="#000000"><circle cx="105.20" cy="571.00" r="1.8"/><circle cx="108.41" cy="572.50" r="1.8"/><circle cx="111.61" cy="575.20" r="1.8"/><circle cx="114.82" cy="577.80" r="1.8"/><circle cx="118.02" cy="578.80" r="1.8"/><circle cx="121.23" cy="581.30" r="1.8"/><circle cx="124.44" cy="582.50" r="1.8"/><circle cx="127.64" cy="584.00" r="1.8"/><circle cx="130.85" cy="583.20" r="1.8"/><circle cx="134.05" cy="582.20" r="1.8"/><circle cx="137.26" cy="582.50" r="1.8"/><circle cx="140.47" cy="584.00" r="1.8"/><circle cx="143.67" cy="587.00" r="1.8"/><circle cx="146.88" cy="590.00" r="1.8"/><circle cx="150.08" cy="592.50" r="1.8"/><circle cx="153.29" cy="593.30" r="1.8"/><circle cx="156.50" cy="595.50" r="1.8"/><circle cx="159.70" cy="599.40" r="1.8"/><circle cx="162.91" cy="599.80" r="1.8"/><circle cx="166.11" cy="601.50" r="1.8"/><circle cx="169.32" cy="603.00" r="1.8"/><circle cx="172.53" cy="604.20" r="1.8"/><circle cx="175.73" cy="604.70" r="1.8"/><circle cx="178.94" cy="605.20" r="1.8"/><circle cx="182.14" cy="606.30" r="1.8"/><circle cx="185.35" cy="606.20" r="1.8"/><circle cx="188.56" cy="605.50" r="1.8"/><circle cx="191.76" cy="605.80" r="1.8"/><circle cx="194.97" cy="607.50" r="1.8"/><circle cx="198.17" cy="609.50" r="1.8"/><circle cx="201.38" cy="612.50" r="1.8"/><circle cx="204.59" cy="609.70" r="1.8"/><circle cx="207.79" cy="611.80" r="1.8"/><circle cx="211.00" cy="613.50" r="1.8"/><circle cx="214.20" cy="614.00" r="1.8"/><circle cx="217.41" cy="617.50" r="1.8"/><circle cx="220.62" cy="617.60" r="1.8"/><circle cx="223.82" cy="623.80" r="1.8"/><circle cx="227.03" cy="618.80" r="1.8"/><circle cx="230.23" cy="616.80" r="1.8"/><circle cx="233.44" cy="631.00" r="1.8"/><circle cx="236.65" cy="623.80" r="1.8"/><circle cx="239.85" cy="645.20" r="1.8"/><circle cx="243.06" cy="628.00" r="1.8"/><circle cx="249.47" cy="620.00" r="1.8"/><circle cx="252.68" cy="629.80" r="1.8"/><circle cx="255.88" cy="671.60" r="1.8"/><circle cx="265.50" cy="648.50" r="1.8"/><circle cx="268.71" cy="656.20" r="1.8"/></g>
<line x1="178.50" y1="646.20" x2="227.20" y2="684.50" stroke="#ff0000" stroke-width="1.0"/>
<line x1="178.50" y1="615.20" x2="227.20" y2="663.80" stroke="#0000ff" stroke-width="1.0"/>
<line x1="178.50" y1="596.50" x2="227.20" y2="613.50" stroke="#000000" stroke-width="1.0"/>
<g fill="#ff0000"><circle cx="444.50" cy="602.00" r="1.8"/><circle cx="447.71" cy="606.30" r="1.8"/><circle cx="450.91" cy="590.80" r="1.8"/><circle cx="454.12" cy="575.00" r="1.8"/><circle cx="457.32" cy="583.20" r="1.8"/><circle cx="460.53" cy="597.80" r="1.8"/><circle cx="463.74" cy="604.80" r="1.8"/><circle cx="466.94" cy="609.80" r="1.8"/><circle cx="470.15" cy="607.00" r="1.8"/><circle cx="473.35" cy="602.50" r="1.8"/><circle cx="476.56" cy="604.00" r="1.8"/><circle cx="479.77" cy="618.30" r="1.8"/><circle cx="482.97" cy="630.20" r="1.8"/><circle cx="486.18" cy="628.50" r="1.8"/><circle cx="489.38" cy="629.00" r="1.8"/><circle cx="492.59" cy="630.70" r="1.8"/><circle cx="495.80" cy="630.50" r="1.8"/><circle cx="499.00" cy="635.80" r="1.8"/><circle cx="502.21" cy="638.50" r="1.8"/><circle cx="505.41" cy="639.50" r="1.8"/><circle cx="508.62" cy="642.20" r="1.8"/><circle cx="511.83" cy="644.30" r="1.8"/><circle cx="515.03" cy="647.00" r="1.8"/><circle cx="518.24" cy="651.80" r="1.8"/><circle cx="521.44" cy="656.20" r="1.8"/><circle cx="524.65" cy="658.20" r="1.8"/><circle cx="527.86" cy="660.50" r="1.8"/><circle cx="531.06" cy="663.20" r="1.8"/><circle cx="534.27" cy="664.50" r="1.8"/><circle cx="537.47" cy="668.50" r="1.8"/><circle cx="540.68" cy="671.50" r="1.8"/><circle cx="543.89" cy="674.30" r="1.8"/><circle cx="547.09" cy="674.50" r="1.8"/><circle cx="550.30" cy="677.50" r="1.8"/><circle cx="553.50" cy="681.00" r="1.8"/><circle cx="556.71" cy="684.00" r="1.8"/><circle cx="559.92" cy="686.20" r="1.8"/><circle cx="563.12" cy="687.50" r="1.8"/><circle cx="566.33" cy="690.50" r="1.8"/><circle cx="569.53" cy="692.70" r="1.8"/><circle cx="572.74" cy="698.70" r="1.8"/><circle cx="575.95" cy="699.80" r="1.8"/><circle cx="579.15" cy="714.00" r="1.8"/><circle cx="582.36" cy="704.00" r="1.8"/><circle cx="588.77" cy="697.30" r="1.8"/><circle cx="591.98" cy="712.80" r="1.8"/><circle cx="604.80" cy="714.00" r="1.8"/></g>
<g fill="#bfbf00"><circle cx="444.50" cy="587.70" r="1.8"/><circle cx="447.71" cy="578.50" r="1.8"/><circle cx="450.91" cy="576.50" r="1.8"/><circle cx="454.12" cy="579.20" r="1.8"/><circle cx="457.32" cy="583.00" r="1.8"/><circle cx="460.53" cy="590.50" r="1.8"/><circle cx="463.74" cy="592.80" r="1.8"/><circle cx="466.94" cy="592.80" r="1.8"/><circle cx="470.15" cy="589.30" r="1.8"/><circle cx="473.35" cy="592.30" r="1.8"/><circle cx="476.56" cy="593.70" r="1.8"/><circle cx="479.77" cy="596.70" r="1.8"/><circle cx="482.97" cy="601.30" r="1.8"/><circle cx="486.18" cy="603.50" r="1.8"/><circle cx="489.38" cy="605.70" r="1.8"/><circle cx="492.59" cy="604.50" r="1.8"/><circle cx="495.80" cy="607.20" r="1.8"/><circle cx="499.00" cy="609.50" r="1.8"/><circle cx="502.21" cy="608.70" r="1.8"/><circle cx="505.41" cy="610.30" r="1.8"/><circle cx="508.62" cy="612.30" r="1.8"/><circle cx="511.83" cy="612.50" r="1.8"/><circle cx="515.03" cy="612.00" r="1.8"/><circle cx="518.24" cy="612.50" r="1.8"/><circle cx="521.44" cy="614.20" r="1.8"/><circle cx="524.65" cy="615.70" r="1.8"/><circle cx="527.86" cy="614.50" r="1.8"/><circle cx="531.06" cy="613.30" r="1.8"/><circle cx="534.27" cy="614.70" r="1.8"/><circle cx="537.47" cy="616.00" r="1.8"/><circle cx="540.68" cy="619.50" r="1.8"/><circle cx="543.89" cy="618.20" r="1.8"/><circle cx="547.09" cy="618.30" r="1.8"/><circle cx="550.30" cy="620.80" r="1.8"/><circle cx="553.50" cy="620.00" r="1.8"/><circle cx="556.71" cy="621.80" r="1.8"/><circle cx="559.92" cy="622.50" r="1.8"/><circle cx="563.12" cy="624.80" r="1.8"/><circle cx="566.33" cy="625.50" r="1.8"/><circle cx="569.53" cy="624.70" r="1.8"/><circle cx="572.74" cy="636.20" r="1.8"/><circle cx="575.95" cy="630.20" r="1.8"/><circle cx="579.15" cy="645.20" r="1.8"/><circle cx="582.36" cy="632.50" r="1.8"/><circle cx="588.77" cy="645.50" r="1.8"/><circle cx="591.98" cy="635.50" r="1.8"/><circle cx="595.18" cy="671.50" r="1.8"/><circle cx="604.80" cy="648.50" r="1.8"/><circle cx="608.01" cy="656.20" r="1.8"/></g>
<g fill="#008000"><circle cx="444.50" cy="564.00" r="1.8"/><circle cx="447.71" cy="568.30" r="1.8"/><circle cx="450.91" cy="574.20" r="1.8"/><circle cx="454.12" cy="577.50" r="1.8"/><circle cx="457.32" cy="576.80" r="1.8"/><circle cx="460.53" cy="575.50" r="1.8"/><circle cx="463.74" cy="574.20" r="1.8"/><circle cx="466.94" cy="575.20" r="1.8"/><circle cx="470.15" cy="575.80" r="1.8"/><circle cx="473.35" cy="571.20" r="1.8"/><circle cx="476.56" cy="570.50" r="1.8"/><circle cx="479.77" cy="569.70" r="1.8"/><circle cx="482.97" cy="571.50" r="1.8"/><circle cx="486.18" cy="575.50" r="1.8"/><circle cx="489.38" cy="576.80" r="1.8"/><circle cx="492.59" cy="576.80" r="1.8"/><circle cx="495.80" cy="576.80" r="1.8"/><circle cx="499.00" cy="580.00" r="1.8"/><circle cx="502.21" cy="577.50" r="1.8"/><circle cx="505.41" cy="574.80" r="1.8"/><circle cx="508.62" cy="573.30" r="1.8"/><circle cx="511.83" cy="573.50" r="1.8"/><circle cx="515.03" cy="577.70" r="1.8"/><circle cx="518.24" cy="580.80" r="1.8"/><circle cx="521.44" cy="578.30" r="1.8"/><circle cx="524.65" cy="577.20" r="1.8"/><circle cx="527.86" cy="578.20" r="1.8"/><circle cx="531.06" cy="577.50" r="1.8"/><circle cx="534.27" cy="580.00" r="1.8"/><circle cx="537.47" cy="579.20" r="1.8"/><circle cx="540.68" cy="578.30" r="1.8"/><circle cx="543.89" cy="576.20" r="1.8"/><circle cx="547.09" cy="576.20" r="1.8"/><circle cx="550.30" cy="574.00" r="1.8"/><circle cx="553.50" cy="577.00" r="1.8"/><circle cx="556.71" cy="572.00" r="1.8"/><circle cx="559.92" cy="572.70" r="1.8"/><circle cx="563.12" cy="597.00" r="1.8"/><circle cx="566.33" cy="571.70" r="1.8"/><circle cx="569.53" cy="566.30" r="1.8"/><circle cx="572.74" cy="577.50" r="1.8"/><circle cx="575.95" cy="581.30" r="1.8"/><circle cx="582.36" cy="586.70" r="1.8"/><circle cx="588.77" cy="591.00" r="1.8"/><circle cx="591.98" cy="581.50" r="1.8"/></g>
<line x1="517.80" y1="646.20" x2="566.50" y2="684.50" stroke="#ff0000" stroke-width="1.0"/>
<line x1="518.00" y1="605.50" x2="566.50" y2="618.00" stroke="#bfbf00" stroke-width="1.0"/>
<line x1="518.00" y1="572.00" x2="566.50" y2="570.50" stroke="#008000" stroke-width="1.0"/>
<text x="-0.51" y="17.58" font-size="15.29" textLength="24.68" lengthAdjust="spacingAndGlyphs" font-weight="bold">(a)</text>
<text x="339.01" y="17.58" font-size="15.30" textLength="25.30" lengthAdjust="spacingAndGlyphs" font-weight="bold">(b)</text>
<text x="-0.45" y="272.58" font-size="15.29" textLength="23.25" lengthAdjust="spacingAndGlyphs" font-weight="bold">(c)</text>
<text x="339.01" y="272.58" font-size="15.30" textLength="25.30" lengthAdjust="spacingAndGlyphs" font-weight="bold">(d)</text>
<text x="-0.71" y="527.58" font-size="15.29" textLength="24.74" lengthAdjust="spacingAndGlyphs" font-weight="bold">(e)</text>
<text x="338.26" y="527.58" font-size="15.30" textLength="20.92" lengthAdjust="spacingAndGlyphs" font-weight="bold">(f)</text>
<text x="132.58" y="13.81" font-size="18.03" textLength="10.14" lengthAdjust="spacingAndGlyphs" font-style="italic" stroke="#000" stroke-width="0.3">θ</text>
<text x="144.45" y="16.50" font-size="12.61" textLength="16.06" lengthAdjust="spacingAndGlyphs" stroke="#000" stroke-width="0.3">VB</text>
<text x="164.92" y="14.37" font-size="17.92" textLength="12.79" lengthAdjust="spacingAndGlyphs" stroke="#000" stroke-width="0.3">&lt;</text>
<text x="182.78" y="14.06" font-size="18.16" textLength="20.79" lengthAdjust="spacingAndGlyphs" stroke="#000" stroke-width="0.3">10</text>
<circle cx="210.60" cy="3.80" r="1.9" fill="none" stroke="#000" stroke-width="1.0"/>
<text x="472.08" y="13.81" font-size="18.03" textLength="10.14" lengthAdjust="spacingAndGlyphs" font-style="italic" stroke="#000" stroke-width="0.3">θ</text>
<text x="483.95" y="16.50" font-size="12.61" textLength="16.06" lengthAdjust="spacingAndGlyphs" stroke="#000" stroke-width="0.3">VB</text>
<text x="504.42" y="14.37" font-size="17.92" textLength="12.79" lengthAdjust="spacingAndGlyphs" stroke="#000" stroke-width="0.3">&lt;</text>
<text x="522.28" y="14.06" font-size="18.16" textLength="20.79" lengthAdjust="spacingAndGlyphs" stroke="#000" stroke-width="0.3">10</text>
<circle cx="550.10" cy="3.80" r="1.9" fill="none" stroke="#000" stroke-width="1.0"/>
<text x="149.65" y="246.67" font-size="18.17" textLength="11.18" lengthAdjust="spacingAndGlyphs" font-style="italic" stroke="#000" stroke-width="0.3">ϕ</text>
<text x="160.97" y="250.45" font-size="12.89" textLength="6.61" lengthAdjust="spacingAndGlyphs" font-style="italic" stroke="#000" stroke-width="0.3">c</text>
<text x="174.78" y="245.64" font-size="16.73" textLength="4.93" lengthAdjust="spacingAndGlyphs" stroke="#000" stroke-width="0.3">(</text>
<circle cx="187.30" cy="236.60" r="1.9" fill="none" stroke="#000" stroke-width="0.9"/>
<text x="195.21" y="245.64" font-size="16.73" textLength="4.93" lengthAdjust="spacingAndGlyphs" stroke="#000" stroke-width="0.3">)</text>
<text x="149.75" y="499.47" font-size="18.17" textLength="11.18" lengthAdjust="spacingAndGlyphs" font-style="italic" stroke="#000" stroke-width="0.3">ϕ</text>
<text x="160.97" y="503.25" font-size="12.89" textLength="6.61" lengthAdjust="spacingAndGlyphs" font-style="italic" stroke="#000" stroke-width="0.3">c</text>
<text x="174.88" y="498.44" font-size="16.73" textLength="4.93" lengthAdjust="spacingAndGlyphs" stroke="#000" stroke-width="0.3">(</text>
<circle cx="187.50" cy="489.40" r="1.9" fill="none" stroke="#000" stroke-width="0.9"/>
<text x="195.21" y="498.44" font-size="16.73" textLength="4.93" lengthAdjust="spacingAndGlyphs" stroke="#000" stroke-width="0.3">)</text>
<text x="493.15" y="246.67" font-size="18.17" textLength="11.18" lengthAdjust="spacingAndGlyphs" font-style="italic" stroke="#000" stroke-width="0.3">ϕ</text>
<text x="510.48" y="245.64" font-size="16.73" textLength="4.93" lengthAdjust="spacingAndGlyphs" stroke="#000" stroke-width="0.3">(</text>
<circle cx="523.20" cy="236.60" r="1.9" fill="none" stroke="#000" stroke-width="0.9"/>
<text x="530.91" y="245.64" font-size="16.73" textLength="4.93" lengthAdjust="spacingAndGlyphs" stroke="#000" stroke-width="0.3">)</text>
<text x="492.55" y="499.47" font-size="18.17" textLength="11.18" lengthAdjust="spacingAndGlyphs" font-style="italic" stroke="#000" stroke-width="0.3">ϕ</text>
<text x="510.68" y="498.44" font-size="16.73" textLength="4.93" lengthAdjust="spacingAndGlyphs" stroke="#000" stroke-width="0.3">(</text>
<circle cx="523.50" cy="489.40" r="1.9" fill="none" stroke="#000" stroke-width="0.9"/>
<text x="531.91" y="498.44" font-size="16.73" textLength="4.93" lengthAdjust="spacingAndGlyphs" stroke="#000" stroke-width="0.3">)</text>
<text x="136.20" y="758.00" font-size="17.30" textLength="9.06" lengthAdjust="spacingAndGlyphs" font-style="italic" stroke="#000" stroke-width="0.3">k</text>
<text x="151.77" y="756.90" font-size="15.78" textLength="4.78" lengthAdjust="spacingAndGlyphs" stroke="#000" stroke-width="0.3">[</text>
<text x="157.11" y="758.00" font-size="17.48" textLength="17.18" lengthAdjust="spacingAndGlyphs" stroke="#000" stroke-width="0.3">M</text>
<text x="173.71" y="758.00" font-size="17.17" textLength="16.17" lengthAdjust="spacingAndGlyphs" stroke="#000" stroke-width="0.3">m</text>
<text x="190.71" y="753.00" font-size="12.19" textLength="16.05" lengthAdjust="spacingAndGlyphs" stroke="#000" stroke-width="0.3">−1</text>
<text x="210.75" y="756.90" font-size="15.78" textLength="4.78" lengthAdjust="spacingAndGlyphs" stroke="#000" stroke-width="0.3">]</text>
<text x="475.50" y="758.00" font-size="17.30" textLength="9.06" lengthAdjust="spacingAndGlyphs" font-style="italic" stroke="#000" stroke-width="0.3">k</text>
<text x="491.07" y="756.90" font-size="15.78" textLength="4.78" lengthAdjust="spacingAndGlyphs" stroke="#000" stroke-width="0.3">[</text>
<text x="496.41" y="758.00" font-size="17.48" textLength="17.18" lengthAdjust="spacingAndGlyphs" stroke="#000" stroke-width="0.3">M</text>
<text x="513.01" y="758.00" font-size="17.17" textLength="16.17" lengthAdjust="spacingAndGlyphs" stroke="#000" stroke-width="0.3">m</text>
<text x="530.01" y="753.00" font-size="12.19" textLength="16.05" lengthAdjust="spacingAndGlyphs" stroke="#000" stroke-width="0.3">−1</text>
<text x="550.05" y="756.90" font-size="15.78" textLength="4.78" lengthAdjust="spacingAndGlyphs" stroke="#000" stroke-width="0.3">]</text>
<g transform="translate(28.70,151.50) rotate(-90)"><text x="-1.11" y="0.58" font-size="18.44" textLength="13.17" lengthAdjust="spacingAndGlyphs" stroke="#000" stroke-width="0.3">&lt;</text><text x="16.56" y="0.03" font-size="18.25" textLength="10.70" lengthAdjust="spacingAndGlyphs" font-style="italic" stroke="#000" stroke-width="0.3">α</text><text x="31.79" y="0.58" font-size="18.44" textLength="13.17" lengthAdjust="spacingAndGlyphs" stroke="#000" stroke-width="0.3">&gt;</text><text x="50.08" y="-1.16" font-size="16.73" textLength="4.93" lengthAdjust="spacingAndGlyphs" stroke="#000" stroke-width="0.3">(</text><circle cx="62.00" cy="-11.00" r="1.9" fill="none" stroke="#000" stroke-width="0.9"/><text x="69.81" y="-1.16" font-size="16.73" textLength="4.93" lengthAdjust="spacingAndGlyphs" stroke="#000" stroke-width="0.3">)</text></g>
<g transform="translate(368.10,151.50) rotate(-90)"><text x="-1.11" y="0.58" font-size="18.44" textLength="13.17" lengthAdjust="spacingAndGlyphs" stroke="#000" stroke-width="0.3">&lt;</text><text x="16.56" y="0.03" font-size="18.25" textLength="10.70" lengthAdjust="spacingAndGlyphs" font-style="italic" stroke="#000" stroke-width="0.3">α</text><text x="31.79" y="0.58" font-size="18.44" textLength="13.17" lengthAdjust="spacingAndGlyphs" stroke="#000" stroke-width="0.3">&gt;</text><text x="50.08" y="-1.16" font-size="16.73" textLength="4.93" lengthAdjust="spacingAndGlyphs" stroke="#000" stroke-width="0.3">(</text><circle cx="62.00" cy="-11.00" r="1.9" fill="none" stroke="#000" stroke-width="0.9"/><text x="69.81" y="-1.16" font-size="16.73" textLength="4.93" lengthAdjust="spacingAndGlyphs" stroke="#000" stroke-width="0.3">)</text></g>
<g transform="translate(29.20,430.20) rotate(-90)"><text x="-0.54" y="-0.13" font-size="18.17" textLength="60.65" lengthAdjust="spacingAndGlyphs" stroke="#000" stroke-width="0.3">scaling</text><text x="71.37" y="0.07" font-size="18.44" textLength="47.51" lengthAdjust="spacingAndGlyphs" stroke="#000" stroke-width="0.3">index</text></g>
<g transform="translate(368.60,430.20) rotate(-90)"><text x="-0.54" y="-0.13" font-size="18.17" textLength="60.65" lengthAdjust="spacingAndGlyphs" stroke="#000" stroke-width="0.3">scaling</text><text x="71.37" y="0.07" font-size="18.44" textLength="47.51" lengthAdjust="spacingAndGlyphs" stroke="#000" stroke-width="0.3">index</text></g>
<g transform="translate(28.30,667.40) rotate(-90)"><text x="-0.55" y="0.07" font-size="17.30" textLength="9.28" lengthAdjust="spacingAndGlyphs" font-style="italic" stroke="#000" stroke-width="0.3">δ</text><text x="11.29" y="0.00" font-size="17.80" textLength="11.13" lengthAdjust="spacingAndGlyphs" font-style="italic" stroke="#000" stroke-width="0.3">B</text><text x="22.17" y="-6.20" font-size="13.18" textLength="7.01" lengthAdjust="spacingAndGlyphs" stroke="#000" stroke-width="0.3">2</text><text x="38.95" y="-1.12" font-size="16.07" textLength="4.86" lengthAdjust="spacingAndGlyphs" stroke="#000" stroke-width="0.3">[</text><text x="45.50" y="0.00" font-size="17.49" textLength="10.07" lengthAdjust="spacingAndGlyphs" stroke="#000" stroke-width="0.3">n</text><text x="55.09" y="0.00" font-size="17.80" textLength="11.19" lengthAdjust="spacingAndGlyphs" stroke="#000" stroke-width="0.3">T</text><text x="64.37" y="-6.20" font-size="13.18" textLength="7.01" lengthAdjust="spacingAndGlyphs" stroke="#000" stroke-width="0.3">2</text><text x="76.69" y="-1.12" font-size="16.07" textLength="4.86" lengthAdjust="spacingAndGlyphs" stroke="#000" stroke-width="0.3">]</text></g>
<g transform="translate(367.60,667.40) rotate(-90)"><text x="-0.55" y="0.07" font-size="17.30" textLength="9.28" lengthAdjust="spacingAndGlyphs" font-style="italic" stroke="#000" stroke-width="0.3">δ</text><text x="11.29" y="0.00" font-size="17.80" textLength="11.13" lengthAdjust="spacingAndGlyphs" font-style="italic" stroke="#000" stroke-width="0.3">B</text><text x="22.17" y="-6.20" font-size="13.18" textLength="7.01" lengthAdjust="spacingAndGlyphs" stroke="#000" stroke-width="0.3">2</text><text x="38.95" y="-1.12" font-size="16.07" textLength="4.86" lengthAdjust="spacingAndGlyphs" stroke="#000" stroke-width="0.3">[</text><text x="45.50" y="0.00" font-size="17.49" textLength="10.07" lengthAdjust="spacingAndGlyphs" stroke="#000" stroke-width="0.3">n</text><text x="55.09" y="0.00" font-size="17.80" textLength="11.19" lengthAdjust="spacingAndGlyphs" stroke="#000" stroke-width="0.3">T</text><text x="64.37" y="-6.20" font-size="13.18" textLength="7.01" lengthAdjust="spacingAndGlyphs" stroke="#000" stroke-width="0.3">2</text><text x="76.69" y="-1.12" font-size="16.07" textLength="4.86" lengthAdjust="spacingAndGlyphs" stroke="#000" stroke-width="0.3">]</text></g>
<text x="75.53" y="681.93" font-size="10.38" textLength="6.39" lengthAdjust="spacingAndGlyphs" font-style="italic" fill="#ff0000" stroke="#ff0000" stroke-width="0.3">ϕ</text>
<path d="M92.80,675.38 H88.90 A3.12,3.12 0 0 0 88.90,681.62 H92.80 M85.77,678.50 H92.80" fill="none" stroke="#ff0000" stroke-width="0.95"/>
<text x="95.26" y="681.33" font-size="9.57" textLength="2.89" lengthAdjust="spacingAndGlyphs" fill="#ff0000" stroke="#ff0000" stroke-width="0.3">[</text>
<text x="98.99" y="682.04" font-size="10.68" textLength="5.86" lengthAdjust="spacingAndGlyphs" fill="#ff0000" stroke="#ff0000" stroke-width="0.3">0</text>
<text x="108.83" y="682.00" font-size="10.00" textLength="7.52" lengthAdjust="spacingAndGlyphs" fill="#ff0000" stroke="#ff0000" stroke-width="0.3">−</text>
<text x="119.34" y="682.04" font-size="10.68" textLength="12.23" lengthAdjust="spacingAndGlyphs" fill="#ff0000" stroke="#ff0000" stroke-width="0.3">10</text>
<text x="132.56" y="681.34" font-size="9.56" textLength="2.81" lengthAdjust="spacingAndGlyphs" fill="#ff0000" stroke="#ff0000" stroke-width="0.3">)</text>
<circle cx="140.51" cy="675.80" r="1.15" fill="none" stroke="#ff0000" stroke-width="0.8"/>
<text x="154.99" y="682.04" font-size="10.68" textLength="29.95" lengthAdjust="spacingAndGlyphs" fill="#ff0000" stroke="#ff0000" stroke-width="0.3">−0.64</text>
<text x="75.53" y="697.93" font-size="10.38" textLength="6.39" lengthAdjust="spacingAndGlyphs" font-style="italic" fill="#0000ff" stroke="#0000ff" stroke-width="0.3">ϕ</text>
<path d="M92.80,691.38 H88.90 A3.12,3.12 0 0 0 88.90,697.62 H92.80 M85.77,694.50 H92.80" fill="none" stroke="#0000ff" stroke-width="0.95"/>
<text x="95.26" y="697.33" font-size="9.57" textLength="2.89" lengthAdjust="spacingAndGlyphs" fill="#0000ff" stroke="#0000ff" stroke-width="0.3">[</text>
<text x="98.99" y="698.04" font-size="10.68" textLength="5.86" lengthAdjust="spacingAndGlyphs" fill="#0000ff" stroke="#0000ff" stroke-width="0.3">0</text>
<text x="108.83" y="698.00" font-size="10.00" textLength="7.52" lengthAdjust="spacingAndGlyphs" fill="#0000ff" stroke="#0000ff" stroke-width="0.3">−</text>
<text x="119.19" y="698.04" font-size="10.68" textLength="12.39" lengthAdjust="spacingAndGlyphs" fill="#0000ff" stroke="#0000ff" stroke-width="0.3">90</text>
<text x="132.56" y="697.34" font-size="9.56" textLength="2.81" lengthAdjust="spacingAndGlyphs" fill="#0000ff" stroke="#0000ff" stroke-width="0.3">)</text>
<circle cx="140.51" cy="691.80" r="1.15" fill="none" stroke="#0000ff" stroke-width="0.8"/>
<text x="155.36" y="698.04" font-size="10.68" textLength="29.82" lengthAdjust="spacingAndGlyphs" fill="#0000ff" stroke="#0000ff" stroke-width="0.3">−0.81</text>
<text x="75.53" y="713.93" font-size="10.38" textLength="6.39" lengthAdjust="spacingAndGlyphs" font-style="italic" fill="#000000" stroke="#000000" stroke-width="0.3">ϕ</text>
<path d="M92.80,707.38 H88.90 A3.12,3.12 0 0 0 88.90,713.62 H92.80 M85.77,710.50 H92.80" fill="none" stroke="#000000" stroke-width="0.95"/>
<text x="95.26" y="713.33" font-size="9.57" textLength="2.89" lengthAdjust="spacingAndGlyphs" fill="#000000" stroke="#000000" stroke-width="0.3">[</text>
<text x="98.56" y="714.04" font-size="10.68" textLength="12.23" lengthAdjust="spacingAndGlyphs" fill="#000000" stroke="#000000" stroke-width="0.3">10</text>
<text x="114.75" y="714.00" font-size="10.00" textLength="7.52" lengthAdjust="spacingAndGlyphs" fill="#000000" stroke="#000000" stroke-width="0.3">−</text>
<text x="125.11" y="714.04" font-size="10.68" textLength="12.39" lengthAdjust="spacingAndGlyphs" fill="#000000" stroke="#000000" stroke-width="0.3">90</text>
<text x="138.48" y="713.34" font-size="9.56" textLength="2.81" lengthAdjust="spacingAndGlyphs" fill="#000000" stroke="#000000" stroke-width="0.3">)</text>
<circle cx="146.43" cy="707.80" r="1.15" fill="none" stroke="#000000" stroke-width="0.8"/>
<text x="155.11" y="714.04" font-size="10.68" textLength="30.00" lengthAdjust="spacingAndGlyphs" fill="#000000" stroke="#000000" stroke-width="0.3">−0.28</text>
<text x="414.93" y="681.93" font-size="10.38" textLength="6.39" lengthAdjust="spacingAndGlyphs" font-style="italic" fill="#ff0000" stroke="#ff0000" stroke-width="0.3">ϕ</text>
<path d="M432.20,675.38 H428.30 A3.12,3.12 0 0 0 428.30,681.62 H432.20 M425.18,678.50 H432.20" fill="none" stroke="#ff0000" stroke-width="0.95"/>
<text x="434.66" y="681.33" font-size="9.57" textLength="2.89" lengthAdjust="spacingAndGlyphs" fill="#ff0000" stroke="#ff0000" stroke-width="0.3">[</text>
<text x="438.39" y="682.04" font-size="10.68" textLength="5.86" lengthAdjust="spacingAndGlyphs" fill="#ff0000" stroke="#ff0000" stroke-width="0.3">0</text>
<text x="448.23" y="682.00" font-size="10.00" textLength="7.52" lengthAdjust="spacingAndGlyphs" fill="#ff0000" stroke="#ff0000" stroke-width="0.3">−</text>
<text x="458.74" y="682.04" font-size="10.68" textLength="12.23" lengthAdjust="spacingAndGlyphs" fill="#ff0000" stroke="#ff0000" stroke-width="0.3">10</text>
<text x="471.96" y="681.34" font-size="9.56" textLength="2.81" lengthAdjust="spacingAndGlyphs" fill="#ff0000" stroke="#ff0000" stroke-width="0.3">)</text>
<circle cx="479.91" cy="675.80" r="1.15" fill="none" stroke="#ff0000" stroke-width="0.8"/>
<text x="494.39" y="682.04" font-size="10.68" textLength="29.95" lengthAdjust="spacingAndGlyphs" fill="#ff0000" stroke="#ff0000" stroke-width="0.3">−0.64</text>
<text x="414.93" y="697.93" font-size="10.38" textLength="6.39" lengthAdjust="spacingAndGlyphs" font-style="italic" fill="#bfbf00" stroke="#bfbf00" stroke-width="0.3">ϕ</text>
<path d="M432.20,691.38 H428.30 A3.12,3.12 0 0 0 428.30,697.62 H432.20 M425.18,694.50 H432.20" fill="none" stroke="#bfbf00" stroke-width="0.95"/>
<text x="434.66" y="697.33" font-size="9.57" textLength="2.89" lengthAdjust="spacingAndGlyphs" fill="#bfbf00" stroke="#bfbf00" stroke-width="0.3">[</text>
<text x="437.96" y="698.04" font-size="10.68" textLength="12.23" lengthAdjust="spacingAndGlyphs" fill="#bfbf00" stroke="#bfbf00" stroke-width="0.3">10</text>
<text x="454.15" y="698.00" font-size="10.00" textLength="7.52" lengthAdjust="spacingAndGlyphs" fill="#bfbf00" stroke="#bfbf00" stroke-width="0.3">−</text>
<text x="464.75" y="698.04" font-size="10.68" textLength="12.14" lengthAdjust="spacingAndGlyphs" fill="#bfbf00" stroke="#bfbf00" stroke-width="0.3">30</text>
<text x="477.88" y="697.34" font-size="9.56" textLength="2.81" lengthAdjust="spacingAndGlyphs" fill="#bfbf00" stroke="#bfbf00" stroke-width="0.3">)</text>
<circle cx="485.83" cy="691.80" r="1.15" fill="none" stroke="#bfbf00" stroke-width="0.8"/>
<text x="494.76" y="698.04" font-size="10.68" textLength="29.82" lengthAdjust="spacingAndGlyphs" fill="#bfbf00" stroke="#bfbf00" stroke-width="0.3">−0.21</text>
<text x="414.93" y="713.93" font-size="10.38" textLength="6.39" lengthAdjust="spacingAndGlyphs" font-style="italic" fill="#008000" stroke="#008000" stroke-width="0.3">ϕ</text>
<path d="M432.20,707.38 H428.30 A3.12,3.12 0 0 0 428.30,713.62 H432.20 M425.18,710.50 H432.20" fill="none" stroke="#008000" stroke-width="0.95"/>
<text x="434.66" y="713.33" font-size="9.57" textLength="2.89" lengthAdjust="spacingAndGlyphs" fill="#008000" stroke="#008000" stroke-width="0.3">[</text>
<text x="438.38" y="714.04" font-size="10.68" textLength="12.14" lengthAdjust="spacingAndGlyphs" fill="#008000" stroke="#008000" stroke-width="0.3">30</text>
<text x="454.49" y="714.00" font-size="10.00" textLength="7.52" lengthAdjust="spacingAndGlyphs" fill="#008000" stroke="#008000" stroke-width="0.3">−</text>
<text x="464.85" y="714.04" font-size="10.68" textLength="12.39" lengthAdjust="spacingAndGlyphs" fill="#008000" stroke="#008000" stroke-width="0.3">90</text>
<text x="478.22" y="713.34" font-size="9.56" textLength="2.81" lengthAdjust="spacingAndGlyphs" fill="#008000" stroke="#008000" stroke-width="0.3">)</text>
<circle cx="486.17" cy="707.80" r="1.15" fill="none" stroke="#008000" stroke-width="0.8"/>
<text x="502.96" y="714.04" font-size="10.68" textLength="21.60" lengthAdjust="spacingAndGlyphs" fill="#008000" stroke="#008000" stroke-width="0.3">0.02</text>
</svg></body></html>
